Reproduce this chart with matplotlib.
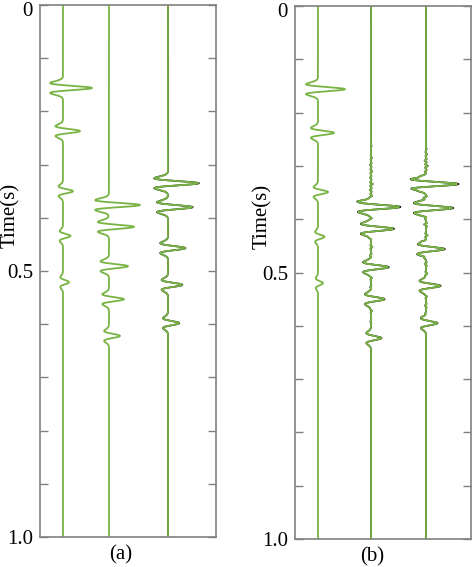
import numpy as np
import matplotlib
matplotlib.use("Agg")
import matplotlib.pyplot as plt
import matplotlib.transforms as mtransforms
from matplotlib import rcParams

rcParams['font.family'] = ['Liberation Serif', 'DejaVu Serif']

# 道的位置（横轴单位：像素宽度 0~176）
offsets_a = [23, 69, 128]
offsets_b = [23, 76, 131]

# 反射事件：时间(s) 与 振幅
t_a1 = [0.156, 0.237, 0.350, 0.434, 0.521]
amp_a1 = [29, 17, 10, 7.5, 6]
t_a2 = [0.376, 0.417, 0.491, 0.553, 0.622]
amp_a2 = [31, 25, 19, 15, 11]
t_a3 = [0.335, 0.380, 0.457, 0.526, 0.598]
amp_a3 = [30, 24, 17, 14, 11]

t_b1 = [0.156, 0.238, 0.349, 0.433, 0.520]
amp_b1 = [27, 16, 10, 6.5, 5]
t_b2 = [0.377, 0.418, 0.490, 0.550, 0.623]
amp_b2 = [28, 22, 17, 13, 10]
t_b3 = [0.334, 0.379, 0.456, 0.525, 0.595]
amp_b3 = [31, 26, 18, 14, 11]

# (b) 中的小噪声扰动
noise_t_b2 = [0.262, 0.285, 0.298, 0.310, 0.322, 0.334, 0.345, 0.356, 0.366, 0.398,
              0.435, 0.452, 0.468, 0.510, 0.527, 0.572, 0.592]
noise_a_b2 = [0.5, 0.8, -1.0, 1.3, -0.9, 1.7, -1.3, 1.2, -1.6, 1.2, -1.0, 1.4, -1.1,
              1.0, -0.8, 0.8, -0.6]
noise_t_b3 = [0.268, 0.278, 0.290, 0.300, 0.311, 0.322, 0.345, 0.360, 0.396, 0.410,
              0.430, 0.442, 0.470, 0.484, 0.502, 0.545, 0.562, 0.580]
noise_a_b3 = [0.6, 1.0, -1.4, 1.8, -1.2, 2.2, 1.8, -2.0, 1.6, -1.8, 1.5, -1.4, 1.6,
              -1.3, 1.2, 1.0, -1.0, 0.8]

time = np.linspace(0, 1, 4001)


def ricker(t0, f):
    a = (np.pi * f * (time - t0)) ** 2
    return (1 - 2 * a) * np.exp(-a)


def trace(ts, amps, noise_t=(), noise_a=()):
    w = np.zeros_like(time)
    for t0, a in zip(ts, amps):
        w += a * ricker(t0, 42)
    for t0, a in zip(noise_t, noise_a):
        w += a * ricker(t0, 120)
    return w


green = '#78b444'
gray = '#808080'


def setup(ax, label, label_x):
    ax.set_xlim(0, 176)
    ax.set_ylim(1.0, 0.0)
    ax.set_xticks([])
    ticks = np.round(np.arange(0, 1.01, 0.1), 1)
    ax.set_yticks(ticks)
    ax.set_yticklabels(['0' if t == 0 else ('0.5' if t == 0.5 else ('1.0' if t == 1.0 else ''))
                        for t in ticks])
    ax.tick_params(axis='y', direction='in', length=6, width=1, color=gray,
                   left=True, right=True, labelsize=15, pad=5)
    for s in ax.spines.values():
        s.set_color(gray)
        s.set_linewidth(1.2)
    ax.set_ylabel('Time(s)', fontsize=15)
    ax.text(label_x, -0.034, label, transform=ax.transAxes, ha='center', va='center',
            fontsize=15)
    # 顶部的 "0" 稍微下移，避免被裁掉
    top = ax.get_yticklabels()[0]
    top.set_transform(top.get_transform() +
                      mtransforms.ScaledTranslation(0, -3 / 72, ax.figure.dpi_scale_trans))


fig = plt.figure(figsize=(4.74, 5.67), dpi=100)
ax_a = fig.add_axes([0.0844, 0.0529, 0.3713, 0.9383])
ax_b = fig.add_axes([0.6224, 0.0494, 0.3713, 0.9400])

traces_a = [(t_a1, amp_a1, (), ()), (t_a2, amp_a2, (), ()), (t_a3, amp_a3, (), ())]
black_a = [False, False, True]
for off, (ts, amps, nt, na), blk in zip(offsets_a, traces_a, black_a):
    if blk:
        ax_a.plot(off + trace(ts, np.array(amps) * 1.03), time, color='black', lw=1.2)
    ax_a.plot(off + trace(ts, amps, nt, na), time, color=green, lw=1.3)

traces_b = [(t_b1, amp_b1, (), ()), (t_b2, amp_b2, noise_t_b2, noise_a_b2),
            (t_b3, amp_b3, noise_t_b3, noise_a_b3)]
black_b = [False, True, True]
for off, (ts, amps, nt, na), blk in zip(offsets_b, traces_b, black_b):
    if blk:
        ax_b.plot(off + trace(ts, np.array(amps) * 1.05, nt, na), time, color='black', lw=1.2)
    ax_b.plot(off + trace(ts, amps, nt, na), time, color=green, lw=1.3)

setup(ax_a, '(a)', 0.46)
setup(ax_b, '(b)', 0.4375)
ax_a.yaxis.set_label_coords(-0.114, 0.605)
ax_b.yaxis.set_label_coords(-0.13, 0.605)

fig.savefig('out.png', dpi=100)
